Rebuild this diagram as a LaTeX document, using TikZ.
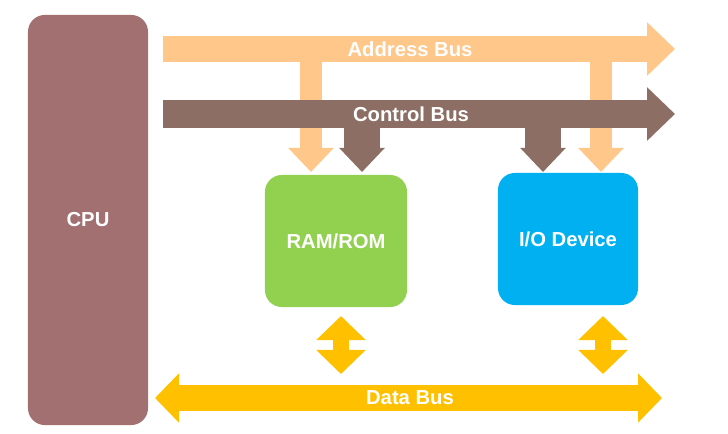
\documentclass[tikz,border=0pt]{standalone}
\usepackage{fontspec}
\setmainfont{Liberation Sans}
\usetikzlibrary{arrows.meta}

\definecolor{cpuc}{HTML}{A27070}
\definecolor{addrc}{HTML}{FFC88A}
\definecolor{ctrlc}{HTML}{8C6E64}
\definecolor{ramc}{HTML}{92D050}
\definecolor{ioc}{HTML}{00B0F0}
\definecolor{datac}{HTML}{FFC000}

\begin{document}
\begin{tikzpicture}[x=0.025cm,y=-0.025cm]
\tikzstyle{every node}=[font=\Large\bfseries,text=white]
\tikzstyle{unit}=[rounded corners=12pt,inner sep=0pt]
\tikzstyle{bus}=[-{Triangle[width=1.3cm,length=0.7cm]}]
\tikzstyle{drop}=[-{Triangle[width=1.1cm,length=0.6cm]},line width=0.55cm]
\tikzstyle{both}=[{Triangle[width=1.2cm,length=0.6cm]}-{Triangle[width=1.2cm,length=0.6cm]}]

\useasboundingbox (0,0) rectangle (728,433);

\node[unit,fill=cpuc,minimum width=3cm,minimum height=10.25cm] (cpu) at (88,220) {CPU};
\node[unit,fill=ramc,minimum width=3.55cm,minimum height=3.3cm] (ram) at (336,241) {RAM/ROM};
\node[unit,fill=ioc,minimum width=3.5cm,minimum height=3.3cm] (io) at (568,239) {I/O Device};

\coordinate (a0) at (163,49);
\coordinate (a1) at (675,49);
\coordinate (c0) at (163,114);
\coordinate (c1) at (675,114);
\coordinate (d0) at (155,398);
\coordinate (d1) at (662,398);

\draw[drop,addrc] (311,62) -- (311,172);
\draw[drop,addrc] (601,62) -- (601,172);

\draw[bus,addrc,line width=0.63cm] (a0) -- (a1);
\draw[bus,ctrlc,line width=0.7cm] (c0) -- (c1);
\draw[both,datac,line width=0.63cm] (d0) -- (d1);

\node (addr) at (410,49) {Address Bus};
\node (ctrl) at (411,114) {Control Bus};
\node (data) at (410,398) {Data Bus};

\draw[drop,ctrlc,line width=0.9cm] (362,128) -- (362,172);
\draw[drop,ctrlc,line width=0.9cm] (543,128) -- (543,172);

\draw[both,datac,line width=0.4cm] (341,316) -- (341,374);
\draw[both,datac,line width=0.4cm] (603,316) -- (603,374);
\end{tikzpicture}
\end{document}
